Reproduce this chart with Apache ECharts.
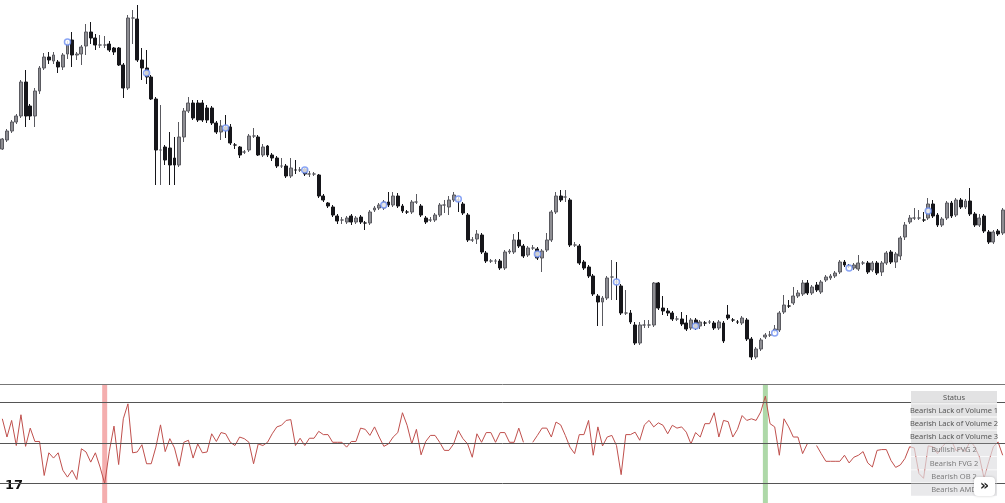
<!DOCTYPE html>
<html>
<head>
<meta charset="utf-8">
<script src="https://cdn.jsdelivr.net/npm/echarts@6/dist/echarts.min.js"></script>
<style>
  html, body { margin: 0; padding: 0; background: #fff; }
  #chart { width: 1005px; height: 503px; }
</style>
</head>
<body>
<div id="chart"></div>
<script>
// price candles: [open, close, low, high]
const candles = [
  [251,261,250,262],[260,269,258,271],[269,278,267,280],[278,284,276,286],[284,318,282,320],
  [318,284,273,330],[294,284,280,296],[284,309,273,312],[309,332,306,334],[332,343,330,347],
  [343,340,336,348],[339,345,336,348],[338,333,327,340],[333,345,330,347],[346,356,341,359],
  [360,345,333,368],[345,346,340,348],[346,353,335,355],[354,368,345,376],[368,362,356,378],
  [362,355,350,366],[355,355,352,365],[355,355,352,364],[356,350,348,359],[352,348,345,353],
  [352,335,334,353],[335,312,302,337],[312,382,310,385],[382,382,356,390],[381,340,338,395],
  [340,332,320,352],[332,323,316,350],[323,301,300,325],[301,250,215,303],[250,250,215,295],
  [253,240,235,255],[252,235,215,268],[242,235,215,263],[235,263,233,278],[263,289,258,292],
  [289,297,287,303],[297,282,280,300],[297,280,278,300],[297,280,278,300],[292,280,277,295],
  [292,277,275,294],[277,268,266,279],[268,274,260,280],[273,270,262,285],[273,257,255,276],
  [255,255,251,257],[253,245,242,254],[248,248,246,250],[250,264,248,266],[264,264,262,272],
  [263,245,244,265],[245,253,243,256],[254,245,243,255],[245,242,239,247],[242,234,232,244],
  [234,234,232,242],[234,224,222,236],[224,232,222,242],[230,230,226,240],[230,230,228,233],
  [231,226,224,232],[226,226,223,229],[226,226,224,228],[225,204,202,226],[204,200,198,206],
  [197,194,192,198],[193,185,183,195],[184,179,176,186],[180,180,176,183],[178,182,176,184],
  [184,178,175,186],[178,182,176,184],[183,178,176,185],[177,177,170,179],[177,188,175,190],
  [190,192,188,194],[192,195,190,197],[192,198,190,200],[198,195,193,208],[195,204,193,208],
  [204,194,192,207],[194,189,187,196],[188,188,186,190],[188,198,186,200],[198,198,196,206],
  [194,185,183,196],[182,178,176,184],[180,180,178,183],[180,185,178,187],[185,195,183,197],
  [195,195,187,200],[193,200,185,204],[200,205,198,208],[200,200,188,203],[196,187,185,198],
  [185,160,158,187],[160,160,158,163],[161,166,156,170],[165,148,146,167],[147,139,137,149],
  [139,139,137,141],[139,139,136,141],[139,132,130,141],[132,148,130,150],[148,149,146,151],
  [148,160,146,166],[160,154,152,168],[154,144,142,156],[145,152,143,154],[152,152,150,155],
  [151,142,140,153],[142,149,128,151],[150,160,148,167],[160,188,158,190],[188,204,186,208],
  [204,200,198,210],[203,203,198,210],[200,155,153,202],[155,155,153,158],[154,137,135,156],
  [138,132,130,140],[133,124,122,135],[124,106,104,126],[104,98,74,106],[98,102,74,104],
  [102,122,100,124],[123,123,100,140],[118,118,100,138],[114,87,85,116],[87,87,85,110],
  [87,78,76,90],[75,57,55,78],[57,75,55,78],[75,75,72,80],[75,75,72,80],
  [75,117,73,118],[117,92,90,118],[92,89,85,104],[89,87,84,92],[87,81,79,89],
  [81,81,79,84],[81,76,74,88],[77,71,69,85],[72,80,70,82],[80,72,70,82],
  [74,78,71,80],[77,77,74,79],[78,78,76,80],[77,72,70,79],[72,78,70,80],
  [77,59,57,79],[85,82,80,95],[80,80,78,82],[78,78,76,80],[77,82,75,84],
  [80,61,59,82],[61,43,40,63],[43,51,41,53],[51,60,49,62],[63,65,61,67],
  [65,65,63,69],[69,71,67,75],[70,87,68,89],[88,95,86,105],[94,94,92,100],
  [97,104,95,113],[104,107,102,110],[106,117,104,120],[117,107,105,120],[107,113,105,115],
  [115,110,108,118],[108,118,106,120],[120,123,118,125],[122,124,120,126],[124,127,122,129],
  [128,138,126,140],[138,135,133,140],[134,134,132,136],[132,135,130,137],[131,137,129,145],
  [137,137,135,139],[137,128,126,139],[130,137,128,139],[137,127,125,139],[128,137,124,139],
  [137,147,135,149],[148,138,136,150],[138,146,132,148],[144,162,140,164],[163,175,160,178],
  [178,182,176,185],[182,182,180,192],[182,182,180,190],[180,180,178,188],[182,196,180,202],
  [196,184,182,200],[185,175,173,187],[175,181,173,183],[182,197,180,199],[197,184,182,199],
  [185,200,183,202],[200,193,191,202],[193,199,191,201],[199,186,184,212],[186,175,173,188],
  [175,182,173,186],[184,169,167,186],[168,158,156,170],[158,168,156,170],[169,166,164,171],
  [167,190,165,192]
];

// signal circles: [index, price]
const signals = [[14,358],[31,327],[48,272],[65,230],[82,195],[98,201],[115,146],[132,118],[149,74],[166,67],[182,132],[199,189]];

// oscillator values (null = gap)
const oscillator = [
  60,15,56,-6,70,-8,37,4,4,-80,-24,-37,-24,-67,-84,-67,-90,-14,-22,-47,
  -24,-59,-100,-20,42,-53,60,97,-24,-22,-4,-51,-51,-10,45,-21,11,-12,-57,2,
  7,-37,-2,-24,-22,23,4,26,23,2,-6,15,11,2,-51,-2,-6,2,23,40,
  44,56,58,-6,12,-6,12,12,29,21,21,2,2,2,-10,4,4,37,34,19,
  40,15,-8,-2,15,26,75,44,-2,34,-29,4,19,19,2,-18,-18,-2,31,11,
  -2,-35,23,2,26,26,2,26,26,2,2,37,2,null,2,19,37,37,15,52,
  45,19,-10,-26,21,21,56,-30,40,-7,15,19,-6,-78,21,21,27,7,45,56,
  40,50,44,23,44,37,40,27,-2,26,15,48,48,75,15,56,53,15,34,68,
  56,60,56,77,116,48,40,-30,60,40,15,15,-26,-2,null,-6,-26,-45,-45,-45,
  -45,-30,-49,-35,-30,-21,-49,-59,-18,-16,-16,-43,-60,-54,-38,-9,-12,-75,-87,-7,
  -9,-26,-9,3,6,-19,-13,-21,6,-9,-34,-87,-46,-9,3,-30
];

const bearishIdx = 22;
const bullishIdx = 164;
const levels = [100, 0, -100];
const statusRows = ['Status', 'Bearish Lack of Volume 1', 'Bearish Lack of Volume 2', 'Bearish Lack of Volume 3',
  'Bullish FVG 2', 'Bearish FVG 2', 'Bearish OB 2', 'Bearish AMD'];

const cats = candles.map((_, i) => i);

const chart = echarts.init(document.getElementById('chart'));

// status table in the lower pane
const tableGraphics = [];
statusRows.forEach((label, i) => {
  const y = 391 + i * 13.2;
  tableGraphics.push({
    type: 'rect', x: 911, y: y, silent: true, z: 10,
    shape: { width: 86, height: 12.4 },
    style: { fill: i < 4 ? 'rgba(224,224,226,0.95)' : 'rgba(224,224,226,0.7)' }
  });
  tableGraphics.push({
    type: 'text', x: 954, y: y + 6.5, silent: true, z: 11,
    style: {
      text: label, align: 'center', verticalAlign: 'middle',
      fill: i < 4 ? '#555' : 'rgba(85,85,85,0.75)', font: '7.5px "Noto Sans"'
    }
  });
});

chart.setOption({
  animation: false,
  backgroundColor: '#ffffff',
  grid: [
    { left: 0, right: 0, top: 0, height: 370 },
    { left: 0, right: 0, top: 384, height: 119 }
  ],
  xAxis: [
    { type: 'category', data: cats, gridIndex: 0, show: false, boundaryGap: true },
    { type: 'category', data: cats, gridIndex: 1, show: false, boundaryGap: true }
  ],
  yAxis: [
    { type: 'value', gridIndex: 0, min: 30, max: 400, show: false },
    { type: 'value', gridIndex: 1, min: -148, max: 146, show: false },
    { type: 'value', gridIndex: 1, min: 0, max: 1, show: false }
  ],
  series: [
    {
      type: 'candlestick', xAxisIndex: 0, yAxisIndex: 0, data: candles, barWidth: 3.4,
      itemStyle: { color: '#8d8d92', color0: '#16161a', borderColor: '#5a5a60', borderColor0: '#16161a', borderWidth: 1 }
    },
    {
      type: 'scatter', xAxisIndex: 0, yAxisIndex: 0, data: signals, symbol: 'circle', symbolSize: 6, z: 5,
      itemStyle: { color: '#fff', borderColor: '#6d8ef2', borderWidth: 1.5 }
    },
    {
      type: 'bar', xAxisIndex: 1, yAxisIndex: 2, barWidth: 5, silent: true,
      data: cats.map(i => i === bearishIdx ? { value: 1, itemStyle: { color: 'rgba(236,120,120,0.6)' } }
        : i === bullishIdx ? { value: 1, itemStyle: { color: 'rgba(120,190,110,0.6)' } } : null)
    },
    {
      type: 'line', xAxisIndex: 1, yAxisIndex: 1, data: oscillator, symbol: 'none', connectNulls: false,
      lineStyle: { color: '#c0504d', width: 1 }, z: 3,
      markLine: {
        silent: true, symbol: 'none', label: { show: false },
        lineStyle: { color: '#555', width: 1, type: 'solid' },
        data: levels.map(v => ({ yAxis: v })).concat([{ yAxis: 145.5, lineStyle: { color: '#777' } }])
      }
    }
  ],
  graphic: tableGraphics.concat([
    { type: 'text', x: 5, y: 479, style: { text: '17', fill: '#111', font: '900 13px "DejaVu Sans"' } },
    { type: 'rect', x: 974, y: 477, z: 12, shape: { width: 21, height: 19, r: 4 }, style: { fill: '#fff', shadowBlur: 3, shadowColor: 'rgba(0,0,0,0.2)' } },
    { type: 'text', x: 984.5, y: 486, z: 13, style: { text: '»', align: 'center', verticalAlign: 'middle', fill: '#222', font: 'bold 14px "DejaVu Sans"' } }
  ])
});
</script>
</body>
</html>
